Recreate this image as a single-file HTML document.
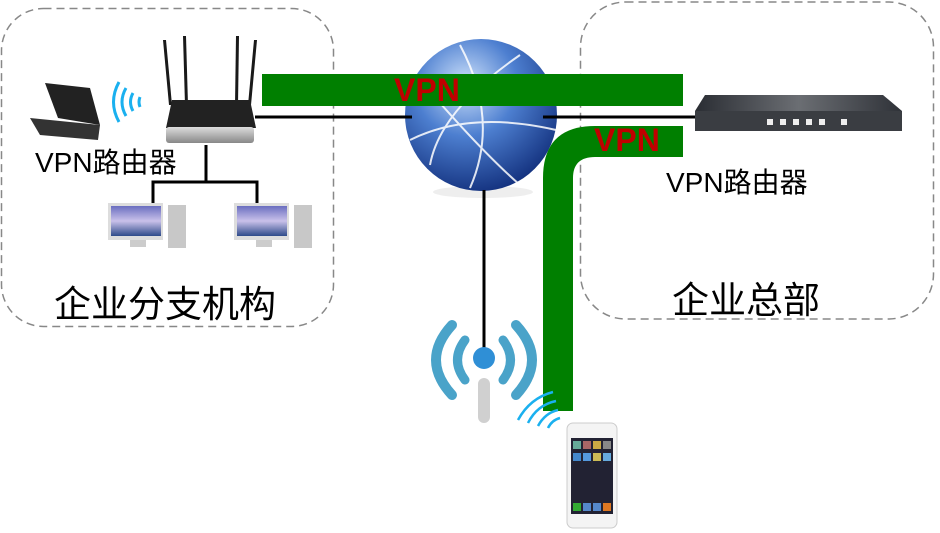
<!DOCTYPE html>
<html><head><meta charset="utf-8"><style>
html,body{margin:0;padding:0;background:#fff;}
body{width:940px;height:533px;position:relative;overflow:hidden;font-family:"Liberation Sans","Noto Sans CJK SC",sans-serif;}
.t{position:absolute;color:#000;white-space:nowrap;}
</style></head><body>
<svg width="940" height="533" style="position:absolute;left:0;top:0">
<defs>
<radialGradient id="glb" cx="0.4" cy="0.3" r="0.75">
<stop offset="0" stop-color="#cfe2fb"/><stop offset="0.45" stop-color="#4d7fd0"/><stop offset="1" stop-color="#102d7a"/>
</radialGradient>
<linearGradient id="rtr" x1="0" y1="0" x2="1" y2="0">
<stop offset="0" stop-color="#2a2d33"/><stop offset="0.5" stop-color="#6b6e73"/><stop offset="1" stop-color="#2f3238"/>
</linearGradient>
<linearGradient id="scr" x1="0" y1="0" x2="0" y2="1">
<stop offset="0" stop-color="#6a6ec0"/><stop offset="0.5" stop-color="#c9c1ea"/><stop offset="1" stop-color="#2e4b8a"/>
</linearGradient>
<linearGradient id="slv" x1="0" y1="0" x2="0" y2="1">
<stop offset="0" stop-color="#ddd"/><stop offset="1" stop-color="#888"/>
</linearGradient>
</defs>
<rect x="1.5" y="8.5" width="332" height="318" rx="42" fill="none" stroke="#888" stroke-width="1.5" stroke-dasharray="8,5"/>
<rect x="580.5" y="2" width="353" height="317" rx="45" fill="none" stroke="#888" stroke-width="1.5" stroke-dasharray="8,5"/>
<ellipse cx="483" cy="192" rx="50" ry="6" fill="#ddd" opacity="0.5"/>
<circle cx="481" cy="115" r="76" fill="url(#glb)"/>
<g stroke="#fff" stroke-width="2" fill="none" opacity="0.85">
<path d="M410 140 Q470 110 556 130"/><path d="M420 80 Q480 150 520 185"/><path d="M460 45 Q500 120 470 188"/><path d="M520 55 Q440 110 430 165"/>
</g>
<line x1="255" y1="117" x2="412" y2="117" stroke="#000" stroke-width="3"/>
<line x1="543" y1="117" x2="696" y2="117" stroke="#000" stroke-width="3"/>
<line x1="484" y1="190" x2="484" y2="355" stroke="#000" stroke-width="3"/>
<polyline points="206,145 206,182 153,182 153,210" fill="none" stroke="#000" stroke-width="3"/>
<polyline points="206,182 257,182 257,210" fill="none" stroke="#000" stroke-width="3"/>
<rect x="262" y="74" width="421" height="32" fill="#007f00"/>
<path d="M683 126 L595 126 Q543 126 543 178 L543 411 L573 411 L573 178 Q573 157 595 157 L683 157 Z" fill="#007f00"/>
<g fill="#1a1a1a">
<polygon points="163,40 166,40 172,105 169,105"/><polygon points="183,36 186,36 188,105 185,105"/>
<polygon points="236,36 239,36 238,105 235,105"/><polygon points="254,40 257,40 251,105 248,105"/>
</g>
<polygon points="172,100 250,100 256,128 166,128" fill="#222"/>
<rect x="166" y="127" width="88" height="16" rx="3" fill="url(#slv)"/>
<polygon points="45,83 90,88 100,125 58,118" fill="#222"/>
<polygon points="30,118 100,125 98,140 40,135" fill="#333"/>
<g fill="none" stroke="#1ab0ef" stroke-width="3">
<path d="M119 82 Q108 102 119 122"/><path d="M126 88 Q118 102 126 116"/><path d="M133 93 Q128 102 133 111"/><path d="M140 97 Q138 102 140 107"/>
</g>
<g>
<rect x="108" y="203" width="55" height="37" fill="#ddd"/><rect x="111" y="206" width="50" height="30" fill="url(#scr)"/>
<rect x="130" y="240" width="16" height="7" fill="#ccc"/><rect x="168" y="205" width="18" height="43" fill="#c8c8c8"/>
<rect x="234" y="203" width="55" height="37" fill="#ddd"/><rect x="237" y="206" width="50" height="30" fill="url(#scr)"/>
<rect x="256" y="240" width="16" height="7" fill="#ccc"/><rect x="294" y="205" width="18" height="43" fill="#c8c8c8"/>
</g>
<polygon points="705,95 883,95 902,111 695,111" fill="url(#rtr)"/>
<rect x="695" y="111" width="207" height="20" fill="#3a3d42"/>
<g fill="#eee"><rect x="767" y="119" width="6" height="6"/><rect x="780" y="119" width="6" height="6"/><rect x="793" y="119" width="6" height="6"/><rect x="806" y="119" width="6" height="6"/><rect x="819" y="119" width="6" height="6"/><rect x="841" y="119" width="6" height="6"/></g>
<g fill="none" stroke-linecap="round">
<path d="M452 325 Q420 360 452 395" stroke="#4aa3c9" stroke-width="10"/>
<path d="M465 340 Q450 360 465 380" stroke="#4aa3c9" stroke-width="9"/>
<path d="M516 325 Q548 360 516 395" stroke="#4aa3c9" stroke-width="10"/>
<path d="M503 340 Q518 360 503 380" stroke="#4aa3c9" stroke-width="9"/>
</g>
<circle cx="484" cy="358" r="11" fill="#2f8fd6"/>
<rect x="478" y="378" width="12" height="45" rx="6" fill="#d0d0d0"/>
<g fill="none" stroke="#1ab0ef" stroke-width="2.5">
<path d="M518 420 Q530 398 553 392"/><path d="M528 423 Q537 405 556 401"/><path d="M538 426 Q545 413 558 410"/><path d="M548 428 Q552 420 560 418"/>
</g>
<rect x="567" y="423" width="50" height="105" rx="6" fill="#f4f4f4" stroke="#ccc"/>
<rect x="571" y="438" width="42" height="76" fill="#223"/>
<g fill="#6a9"><rect x="573" y="441" width="8" height="8"/><rect x="583" y="441" width="8" height="8" fill="#a66"/><rect x="593" y="441" width="8" height="8" fill="#ca4"/><rect x="603" y="441" width="8" height="8" fill="#888"/>
<rect x="573" y="453" width="8" height="8" fill="#48c"/><rect x="583" y="453" width="8" height="8" fill="#59d"/><rect x="593" y="453" width="8" height="8" fill="#cb5"/><rect x="603" y="453" width="8" height="8" fill="#6ad"/>
<rect x="573" y="503" width="8" height="8" fill="#3a3"/><rect x="583" y="503" width="8" height="8" fill="#58c"/><rect x="593" y="503" width="8" height="8" fill="#58c"/><rect x="603" y="503" width="8" height="8" fill="#d72"/></g>
</svg>
<div class="t" style="left:394px;top:72px;font-size:32px;font-weight:bold;color:#c00000;">VPN</div>
<div class="t" style="left:594px;top:122px;font-size:32px;font-weight:bold;color:#c00000;">VPN</div>
<div class="t" style="left:35px;top:141px;font-size:28px;">VPN路由器</div>
<div class="t" style="left:666px;top:161px;font-size:28px;">VPN路由器</div>
<div class="t" style="left:54px;top:274px;font-size:37px;">企业分支机构</div>
<div class="t" style="left:672px;top:270px;font-size:37px;">企业总部</div>
</body></html>
